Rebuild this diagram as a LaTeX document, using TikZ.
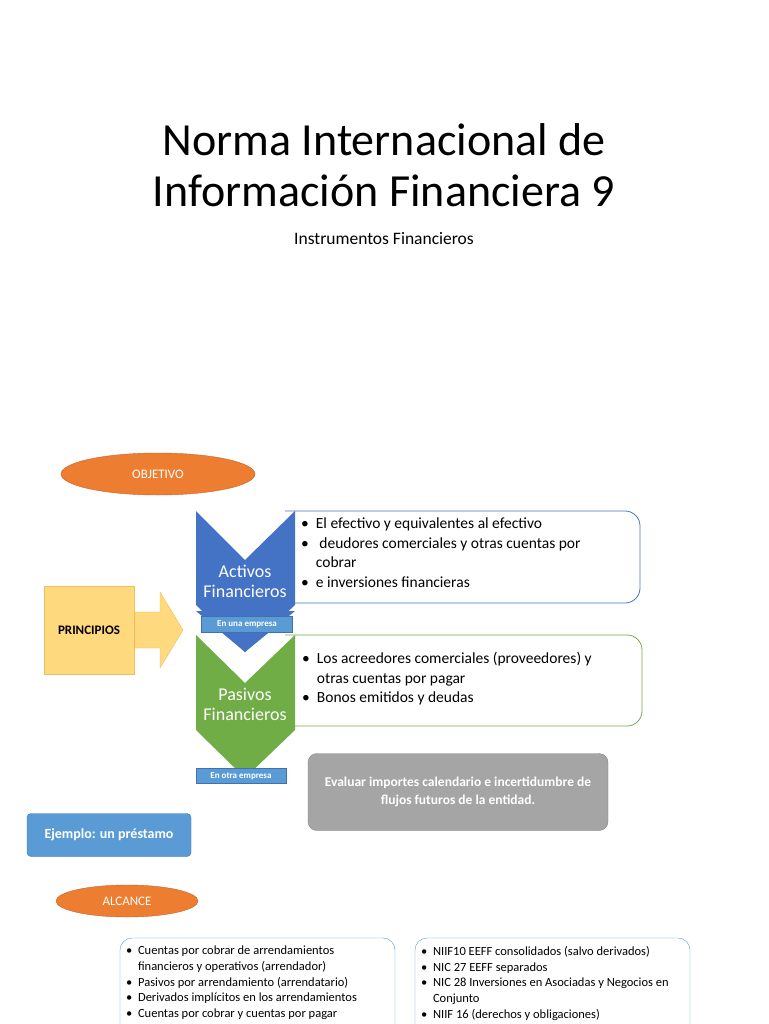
\documentclass[tikz,border=0pt]{standalone}
\usepackage{fontspec}
\setmainfont{Carlito}
\usetikzlibrary{shapes.geometric}
\definecolor{cblue}{RGB}{68,114,196}
\definecolor{cgreen}{RGB}{112,173,71}
\definecolor{corange}{RGB}{237,125,49}
\definecolor{corangeD}{RGB}{200,100,40}
\definecolor{clblue}{RGB}{91,155,213}
\definecolor{clblueD}{RGB}{60,115,175}
\definecolor{cyellow}{RGB}{255,217,125}
\definecolor{cyellowD}{RGB}{240,190,90}
\definecolor{cgray}{RGB}{165,165,165}
\definecolor{cgrayD}{RGB}{130,130,130}
\begin{document}
\begin{tikzpicture}[x=1pt,y=-1pt,
  ell/.style={ellipse, fill=corange, draw=corangeD, text=white, font=\fontsize{13}{15}\selectfont},
  tag/.style={fill=clblue, draw=clblueD, inner sep=0pt, text=white, font=\bfseries\fontsize{9}{10}\selectfont},
  bul/.style={anchor=north west, align=left, inner sep=0pt}]
\useasboundingbox (0,0) rectangle (768,1024);
\fill[white] (0,0) rectangle (768,1024);
\node (t1) at (384,140) {\fontsize{46}{50}\selectfont Norma Internacional de};
\node (t2) at (384,191) {\fontsize{46}{50}\selectfont Información Financiera 9};
\node (st) at (384,239) {\fontsize{17.5}{20}\selectfont Instrumentos Financieros};
\node[ell, minimum width=194pt, minimum height=42pt] (obj) at (158,474) {OBJETIVO};
% boxes
\draw[cblue, line width=0.8pt, fill=white]
  (285,511) -- (625,511) to[out=0,in=90] (640,526) -- (640,588) to[out=-90,in=0] (625,603) -- (285,603);
\draw[cgreen, line width=0.8pt, fill=white]
  (285,635) -- (627,635) to[out=0,in=90] (642,650) -- (642,711) to[out=-90,in=0] (627,726) -- (285,726);
% chevrons
\fill[cblue] (196,511) -- (245,560) -- (295,511) -- (295,605) -- (245,652) -- (196,605) -- cycle;
\fill[cgreen] (196,635) -- (245,683) -- (295,635) -- (295,730) -- (245,778) -- (196,730) -- cycle;
\fill[cblue] (196,611) -- (245,652) -- (295,611) -- cycle;
\node[text=white, align=center, font=\fontsize{18}{20}\selectfont] (af) at (245,581) {Activos\\Financieros};
\node[text=white, align=center, font=\fontsize{18}{20}\selectfont] (pf) at (245,704) {Pasivos\\Financieros};
\node[tag, minimum width=91pt, minimum height=16pt] (l1) at (247,624) {En una empresa};
\node[tag, minimum width=90pt, minimum height=15pt] (l2) at (241,776) {En otra empresa};
\node[bul, font=\fontsize{15.5}{19.5}\selectfont] (b1) at (301,518) {%
\textbullet\ \ El efectivo y equivalentes al efectivo\\
\textbullet\ \ \ deudores comerciales y otras cuentas por\\
\phantom{\textbullet\ \ }cobrar\\
\textbullet\ \ e inversiones financieras};
\node[bul, font=\fontsize{15.5}{19.5}\selectfont] (b2) at (302,652) {%
\textbullet\ \ Los acreedores comerciales (proveedores) y\\
\phantom{\textbullet\ \ }otras cuentas por pagar\\
\textbullet\ \ Bonos emitidos y deudas};
% principios
\node[fill=cyellow, draw=cyellowD, minimum width=90pt, minimum height=88pt, font=\bfseries\fontsize{13}{15}\selectfont] (pr) at (89,630) {PRINCIPIOS};
\fill[cyellow, draw=cyellowD] (135,612) -- (160,612) -- (160,592) -- (183,630) -- (160,668) -- (160,648) -- (135,648) -- cycle;
% gray
\node[fill=cgray, draw=cgrayD, rounded corners=9pt, minimum width=300pt, minimum height=77pt, text=white, align=center, font=\bfseries\fontsize{13.5}{18}\selectfont] (gr) at (458,792) {Evaluar importes calendario e incertidumbre de\\flujos futuros de la entidad.};
\node[fill=clblue, draw=clblueD, rounded corners=4pt, minimum width=164pt, minimum height=43pt, text=white, font=\bfseries\fontsize{14}{16}\selectfont] (ej) at (109,835) {Ejemplo: un préstamo};
\node[ell, minimum width=142pt, minimum height=32pt] (alc) at (127,901) {ALCANCE};
\draw[clblue, rounded corners=12pt, fill=white] (120,1040) -- (120,938) -- (395,938) -- (395,1040);
\draw[clblue, rounded corners=12pt, fill=white] (415,1040) -- (415,938) -- (690,938) -- (690,1040);
\node[bul, font=\fontsize{12.5}{15.7}\selectfont] (c1) at (126,946) {%
\textbullet\ \ Cuentas por cobrar de arrendamientos\\
\phantom{\textbullet\ \ }financieros y operativos (arrendador)\\
\textbullet\ \ Pasivos por arrendamiento (arrendatario)\\
\textbullet\ \ Derivados implícitos en los arrendamientos\\
\textbullet\ \ Cuentas por cobrar y cuentas por pagar};
\node[bul, font=\fontsize{12.5}{15.7}\selectfont] (c2) at (421,946) {%
\textbullet\ \ NIIF10 EEFF consolidados (salvo derivados)\\
\textbullet\ \ NIC 27 EEFF separados\\
\textbullet\ \ NIC 28 Inversiones en Asociadas y Negocios en\\
\phantom{\textbullet\ \ }Conjunto\\
\textbullet\ \ NIIF 16 (derechos y obligaciones)};
\end{tikzpicture}
\end{document}
